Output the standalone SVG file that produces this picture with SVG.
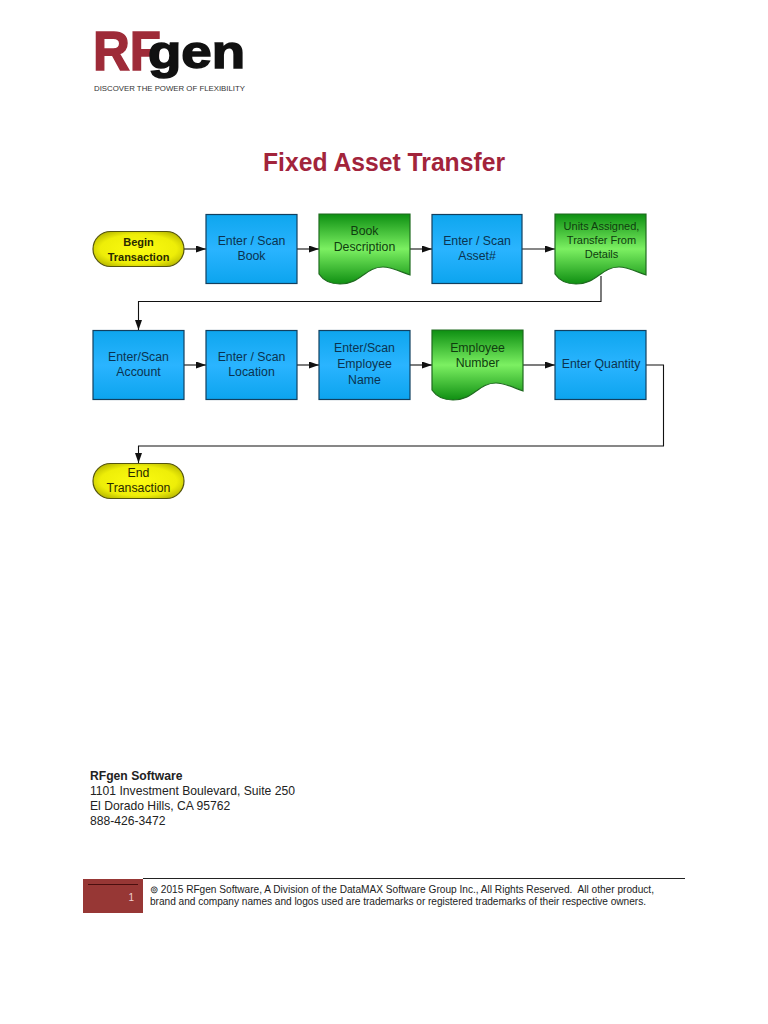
<svg xmlns="http://www.w3.org/2000/svg" width="768" height="1024" viewBox="0 0 768 1024">
<style>
text{font-family:"Liberation Sans",Arial,sans-serif;fill:#1a1a1a}
.l{font-size:12.3px;text-anchor:middle;fill:#0b3350}
.g{font-size:12.3px;text-anchor:middle;fill:#0f3d0f}
.s{font-size:11px;text-anchor:middle;fill:#0f3d0f}
.y{font-size:12.3px;text-anchor:middle;fill:#2a2a00}
.b{fill:url(#blue);stroke:#12405f;stroke-width:1.2}
.d{fill:url(#green);stroke:#1f6b1f;stroke-width:1.2}
.t{fill:url(#yellow);stroke:#55550f;stroke-width:1.2}
.c{fill:none;stroke:#111;stroke-width:1.1}
.a{font-size:12.15px;fill:#222}
.f{font-size:10.15px;fill:#222}
</style>
<defs>
<linearGradient id="blue" x1="0" y1="0" x2="0" y2="1"><stop offset="0" stop-color="#0ea6ee"/><stop offset=".5" stop-color="#2ab4ff"/><stop offset="1" stop-color="#0ca4ee"/></linearGradient>
<linearGradient id="green" x1="0" y1="0" x2="0" y2="1"><stop offset="0" stop-color="#0d8f12"/><stop offset=".5" stop-color="#7cf062"/><stop offset="1" stop-color="#0f8f12"/></linearGradient>
<radialGradient id="yellow" cx=".5" cy=".5" r=".6"><stop offset="0" stop-color="#fbfb10"/><stop offset=".7" stop-color="#eeee08"/><stop offset="1" stop-color="#b8b800"/></radialGradient>
<marker id="arrow" markerUnits="userSpaceOnUse" markerWidth="10" markerHeight="7" refX="10" refY="3.500" orient="auto"><path d="M0 0L10 3.500L0 7z" fill="#111"/></marker>
<path id="doc" d="M0 0H91V61C80 57 72 53 64 53C46 53 42 70 21 70C11 70 4 66 0 60Z"/>
</defs>
<rect width="768" height="1024" fill="#fff"/>
<g id="logo">
<text x="93" y="70" font-size="56" font-weight="700" textLength="68" lengthAdjust="spacingAndGlyphs" stroke="#9e2b38" stroke-width="1.500" style="fill:#9e2b38">RF</text>
<text x="148" y="68" font-size="46" font-weight="700" textLength="97" lengthAdjust="spacingAndGlyphs" stroke="#111" stroke-width="1.500" style="fill:#111">gen</text>
<text x="94" y="91" font-size="7.6" textLength="151" lengthAdjust="spacingAndGlyphs" style="fill:#333">DISCOVER THE POWER OF FLEXIBILITY</text>
</g>
<text id="title" x="384" y="171" font-size="25" font-weight="700" text-anchor="middle" textLength="242" lengthAdjust="spacingAndGlyphs" style="fill:#a2243b">Fixed Asset Transfer</text>
<g id="connectors">
<path class="c" marker-end="url(#arrow)" d="M184 249H206"/>
<path class="c" marker-end="url(#arrow)" d="M297 249H319"/>
<path class="c" marker-end="url(#arrow)" d="M410 249H432"/>
<path class="c" marker-end="url(#arrow)" d="M522 249H555"/>
<path class="c" marker-end="url(#arrow)" d="M601 276V301.500H138.500V330"/>
<path class="c" marker-end="url(#arrow)" d="M184 365H206"/>
<path class="c" marker-end="url(#arrow)" d="M297 365H319"/>
<path class="c" marker-end="url(#arrow)" d="M410 365H432"/>
<path class="c" marker-end="url(#arrow)" d="M523 365H555"/>
<path class="c" marker-end="url(#arrow)" d="M646 365H663.500V446H138.500V463"/>
</g>
<g id="begin"><rect class="t" x="93" y="231.500" width="91" height="35" rx="17.500"/><text class="y" x="138.500" y="245.500" style="font-size:11px;font-weight:700">Begin</text><text class="y" x="138.500" y="260.500" style="font-size:11px;font-weight:700">Transaction</text></g>
<g id="scanbook"><rect class="b" x="206" y="214.500" width="91" height="69"/><text class="l" x="251.500" y="244.500">Enter / Scan</text><text class="l" x="251.500" y="260">Book</text></g>
<g id="bookdesc"><use href="#doc" x="319" y="214" class="d"/><text class="g" x="364.500" y="235">Book</text><text class="g" x="364.500" y="251">Description</text></g>
<g id="scanasset"><rect class="b" x="432" y="214.500" width="90" height="69"/><text class="l" x="477" y="244.500">Enter / Scan</text><text class="l" x="477" y="260">Asset#</text></g>
<g id="units"><use href="#doc" x="555" y="214" class="d"/><text class="s" x="601.500" y="229.500">Units Assigned,</text><text class="s" x="601.500" y="244">Transfer From</text><text class="s" x="601.500" y="257.500">Details</text></g>
<g id="account"><rect class="b" x="93" y="330.500" width="91" height="69"/><text class="l" x="138.500" y="360.500">Enter/Scan</text><text class="l" x="138.500" y="376">Account</text></g>
<g id="location"><rect class="b" x="206" y="330.500" width="91" height="69"/><text class="l" x="251.500" y="360.500">Enter / Scan</text><text class="l" x="251.500" y="376">Location</text></g>
<g id="empname"><rect class="b" x="319" y="330.500" width="91" height="69"/><text class="l" x="364.500" y="352">Enter/Scan</text><text class="l" x="364.500" y="368">Employee</text><text class="l" x="364.500" y="384">Name</text></g>
<g id="empnum"><use href="#doc" x="432" y="330" class="d"/><text class="g" x="477.500" y="352">Employee</text><text class="g" x="477.500" y="367">Number</text></g>
<g id="qty"><rect class="b" x="555" y="330.500" width="91" height="69"/><text class="l" x="601" y="368">Enter Quantity</text></g>
<g id="end"><rect class="t" x="93" y="463.500" width="91" height="35" rx="17.500"/><text class="y" x="138.500" y="476.500">End</text><text class="y" x="138.500" y="492">Transaction</text></g>
<g id="address">
<text class="a" x="90" y="780" font-weight="700">RFgen Software</text>
<text class="a" x="90" y="795">1101 Investment Boulevard, Suite 250</text>
<text class="a" x="90" y="810">El Dorado Hills, CA 95762</text>
<text class="a" x="90" y="825">888-426-3472</text>
</g>
<g id="footer">
<rect x="83" y="879" width="60" height="34" fill="#973735"/>
<path d="M143 878.500H685" stroke="#222" stroke-width="1"/>
<path d="M88 884.500H138" stroke="#4a0f0f" stroke-width="1.200"/>
<text x="134" y="901" font-size="10" text-anchor="end" style="fill:#f0d0d0">1</text>
<text class="f" x="150" y="893" xml:space="preserve" textLength="504" lengthAdjust="spacing">⊚ 2015 RFgen Software, A Division of the DataMAX Software Group Inc., All Rights Reserved.  All other product,</text>
<text class="f" x="150" y="904.500" textLength="496" lengthAdjust="spacing">brand and company names and logos used are trademarks or registered trademarks of their respective owners.</text>
</g>
</svg>
